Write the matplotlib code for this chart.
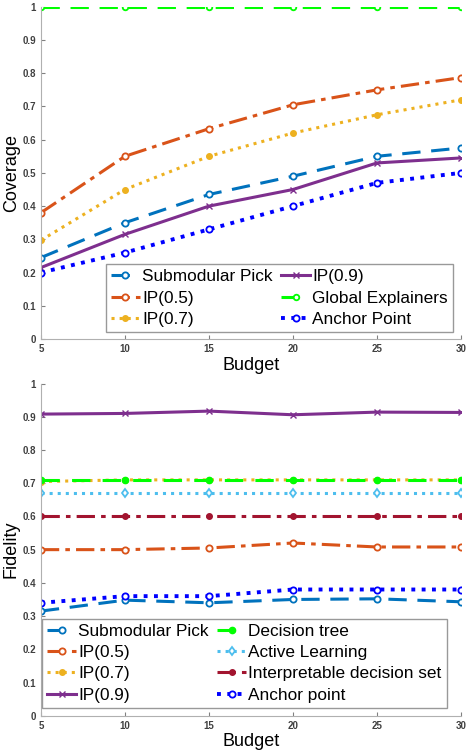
import matplotlib
matplotlib.use("Agg")
from matplotlib import pyplot as plt

plt.rcParams["font.family"] = ["Liberation Sans", "DejaVu Sans"]

budget = [5, 10, 15, 20, 25, 30]

# coverage
cov_sub = [0.245, 0.35, 0.435, 0.49, 0.55, 0.575]
cov_ip5 = [0.38, 0.55, 0.633, 0.705, 0.75, 0.787]
cov_ip7 = [0.297, 0.45, 0.55, 0.62, 0.675, 0.72]
cov_ip9 = [0.215, 0.315, 0.40, 0.45, 0.53, 0.545]
cov_glob = [1, 1, 1, 1, 1, 1]
cov_anchor = [0.20, 0.26, 0.33, 0.40, 0.47, 0.50]

# fidelity
fid_sub = [0.315, 0.348, 0.34, 0.35, 0.352, 0.343]
fid_ip5 = [0.50, 0.50, 0.505, 0.52, 0.508, 0.508]
fid_ip7 = [0.705, 0.71, 0.71, 0.71, 0.71, 0.71]
fid_ip9 = [0.908, 0.91, 0.917, 0.906, 0.914, 0.913]
fid_tree = [0.71, 0.71, 0.71, 0.71, 0.71, 0.71]
fid_active = [0.67, 0.67, 0.67, 0.67, 0.67, 0.67]
fid_ids = [0.60, 0.60, 0.60, 0.60, 0.60, 0.60]
fid_anchor = [0.34, 0.36, 0.36, 0.38, 0.38, 0.38]

blue = "#0072BD"
orange = "#D95319"
yellow = "#EDB120"
purple = "#7E2F8E"
green = "#00FF00"
navy = "#0000FF"
cyan = "#4DBEEE"
maroon = "#A2142F"

fig = plt.figure(figsize=(4.7, 7.55), dpi=100)
ax1 = fig.add_axes([0.087, 0.551, 0.894, 0.44])
ax2 = fig.add_axes([0.087, 0.052, 0.894, 0.44])

lw = 2.2
ms = 4.5
leg_kw = dict(ncol=2, fontsize=12.4, handlelength=1.65, handletextpad=0.15,
              columnspacing=0.5, labelspacing=0.36, borderpad=0.3, borderaxespad=0,
              fancybox=False, edgecolor="#999999", framealpha=1)

ax1.plot(budget, cov_sub, "--", color=blue, lw=lw, marker="o", ms=ms, mfc="white", mew=1.3, label="Submodular Pick", dashes=(6, 3.5))
ax1.plot(budget, cov_ip5, "-.", color=orange, lw=lw, marker="o", ms=ms, mfc="white", mew=1.3, label="IP(0.5)", dashes=(6, 2, 1.5, 2))
ax1.plot(budget, cov_ip7, ":", color=yellow, lw=lw, marker="o", ms=ms - 0.5, label="IP(0.7)")
ax1.plot(budget, cov_ip9, "-", color=purple, lw=lw, marker="x", ms=ms - 0.5, label="IP(0.9)")
ax1.plot(budget, cov_glob, "--", color=green, lw=lw, marker="o", ms=ms - 0.5, mfc="white", mew=1.3, label="Global Explainers", dashes=(6, 3.5))
ax1.plot(budget, cov_anchor, ":", color=navy, lw=lw + 0.6, marker="o", ms=ms, mfc="white", mew=1.3, label="Anchor Point")
ax1.set_ylabel("Coverage", fontsize=13, labelpad=2)
ax1.legend(loc="lower right", bbox_to_anchor=(0.981, 0.021), **leg_kw)

ax2.plot(budget, fid_sub, "--", color=blue, lw=lw, marker="o", ms=ms, mfc="white", mew=1.3, label="Submodular Pick", dashes=(6, 3.5))
ax2.plot(budget, fid_ip5, "-.", color=orange, lw=lw, marker="o", ms=ms, mfc="white", mew=1.3, label="IP(0.5)", dashes=(6, 2, 1.5, 2))
ax2.plot(budget, fid_ip7, ":", color=yellow, lw=lw, marker="o", ms=ms - 0.5, label="IP(0.7)")
ax2.plot(budget, fid_ip9, "-", color=purple, lw=lw, marker="x", ms=ms - 0.5, label="IP(0.9)")
ax2.plot(budget, fid_tree, "--", color=green, lw=lw, marker="o", ms=ms, label="Decision tree", dashes=(6, 4))
ax2.plot(budget, fid_active, ":", color=cyan, lw=lw, marker="d", ms=ms, mfc="white", mew=1.3, label="Active Learning")
ax2.plot(budget, fid_ids, "-.", color=maroon, lw=lw, marker="o", ms=ms - 0.5, label="Interpretable decision set", dashes=(6, 2, 1.5, 2))
ax2.plot(budget, fid_anchor, ":", color=navy, lw=lw + 0.6, marker="o", ms=ms, mfc="white", mew=1.3, label="Anchor point")
ax2.set_ylabel("Fidelity", fontsize=13, labelpad=2)
ax2.legend(loc="lower left", bbox_to_anchor=(0.003, 0.024), **leg_kw)

for ax in (ax1, ax2):
    ax.set_xlim(5, 30)
    ax.set_ylim(0, 1)
    ax.set_xticks([5, 10, 15, 20, 25, 30])
    ax.set_yticks([0, 0.1, 0.2, 0.3, 0.4, 0.5, 0.6, 0.7, 0.8, 0.9, 1])
    ax.set_yticklabels(["0", "0.1", "0.2", "0.3", "0.4", "0.5", "0.6", "0.7", "0.8", "0.9", "1"])
    ax.spines["top"].set_visible(False)
    ax.spines["right"].set_visible(False)
    ax.spines["left"].set_color("#b0b0b0")
    ax.spines["bottom"].set_color("#b0b0b0")
    ax.tick_params(direction="in", length=3, color="#808080", labelsize=7, labelcolor="#404040")
    ax.set_xlabel("Budget", fontsize=13, labelpad=2)
    for lab in ax.get_xticklabels() + ax.get_yticklabels():
        lab.set_fontweight("bold")

fig.savefig("out.png", dpi=100)
